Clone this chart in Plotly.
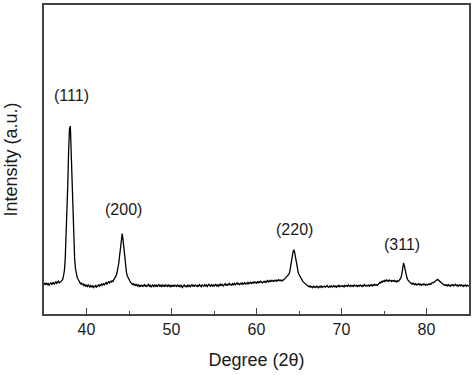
import numpy as np
import plotly.graph_objects as go

# 2-theta sampling (degrees), 0.1 deg step from 35.0 to 85.0
two_theta = np.round(np.arange(350, 851) / 10.0, 1)

# Intensity (a.u.), one row per degree (x.0 ... x.9)
intensity = [
    9.4, 9.9, 9.6, 10.1, 9.5, 9.8, 9.3, 9.9, 10.2, 9.6,        # 35
    9.8, 10.3, 9.7, 10.0, 10.4, 9.9, 10.2, 10.6, 10.1, 10.5,   # 36
    10.5, 10.8, 11.2, 12.5, 14.0, 18.0, 25.0, 32.0, 42.0, 53.0,  # 37
    60.0, 60.8, 52.0, 41.0, 32.0, 24.0, 18.0, 14.8, 13.0, 11.9,  # 38
    11.3, 10.6, 10.3, 9.8, 10.0, 9.5, 9.7, 9.2, 9.5, 9.0,      # 39
    9.3, 8.9, 9.4, 9.0, 8.7, 9.2, 8.8, 9.1, 8.6, 9.0,          # 40
    8.8, 9.2, 8.7, 9.1, 9.4, 9.0, 9.5, 9.2, 9.7, 9.4,          # 41
    9.8, 9.5, 9.9, 10.2, 9.7, 10.1, 10.4, 10.0, 10.5, 10.3,    # 42
    10.7, 10.5, 11.0, 11.3, 11.8, 12.5, 13.5, 14.6, 16.5, 19.0,  # 43
    22.0, 24.5, 26.0, 24.0, 21.0, 17.5, 15.0, 13.5, 12.3, 11.6,  # 44
    11.0, 10.7, 10.2, 10.0, 9.6, 9.8, 9.3, 9.6, 9.2, 9.5,      # 45
    9.1, 9.4, 8.9, 9.3, 9.0, 9.4, 8.8, 9.2, 9.5, 9.0,          # 46
    9.3, 8.9, 9.2, 9.6, 9.0, 9.3, 8.8, 9.2, 9.4, 8.9,          # 47
    9.3, 9.0, 9.5, 8.8, 9.2, 9.6, 9.0, 9.3, 8.9, 9.4,          # 48
    9.0, 9.3, 8.8, 9.5, 9.1, 8.9, 9.4, 9.0, 9.3, 8.7,          # 49
    9.2, 9.0, 9.4, 8.8, 9.3, 9.1, 8.9, 9.5, 9.0, 9.2,          # 50
    8.8, 9.3, 9.0, 8.6, 9.2, 9.4, 8.9, 9.1, 8.7, 9.3,          # 51
    9.0, 9.4, 8.8, 9.2, 9.5, 8.9, 9.3, 9.0, 9.4, 9.1,          # 52
    8.9, 9.3, 9.0, 9.5, 9.1, 8.8, 9.4, 9.2, 9.0, 9.5,          # 53
    9.1, 9.4, 8.9, 9.3, 9.6, 9.2, 9.0, 9.5, 9.1, 9.4,          # 54
    9.0, 9.3, 9.6, 9.1, 9.4, 9.0, 9.5, 9.2, 9.7, 9.3,          # 55
    9.5, 9.1, 9.4, 9.8, 9.2, 9.6, 9.3, 9.5, 9.9, 9.4,          # 56
    9.6, 9.3, 9.8, 9.5, 9.9, 9.4, 9.7, 10.1, 9.6, 9.8,         # 57
    9.5, 9.9, 9.7, 10.2, 9.6, 9.9, 10.1, 9.7, 10.0, 9.8,       # 58
    10.2, 9.8, 10.0, 10.3, 9.9, 10.2, 10.0, 10.4, 10.1, 10.3,  # 59
    10.0, 10.4, 10.1, 10.5, 10.2, 10.6, 10.3, 10.1, 10.5, 10.3,  # 60
    10.6, 10.2, 10.5, 10.8, 10.4, 10.7, 10.5, 10.9, 10.6, 10.8,  # 61
    10.5, 10.9, 10.7, 11.0, 10.6, 10.9, 11.1, 10.8, 11.0, 10.7,  # 62
    11.0, 10.8, 11.1, 11.3, 11.4, 11.7, 12.0, 12.3, 12.8, 13.5,  # 63
    14.8, 16.5, 18.5, 20.2, 20.8, 19.8, 18.0, 16.2, 14.8, 13.6,  # 64
    12.8, 12.2, 11.6, 11.2, 10.8, 10.4, 10.2, 9.8, 9.6, 9.3,   # 65
    9.2, 8.9, 9.1, 8.7, 9.0, 8.8, 8.5, 9.0, 8.7, 8.9,          # 66
    8.6, 9.0, 8.8, 8.5, 8.9, 8.7, 9.1, 8.6, 8.9, 8.8,          # 67
    9.0, 8.7, 8.9, 9.2, 8.8, 8.6, 9.0, 8.8, 9.1, 8.7,          # 68
    8.9, 9.2, 8.8, 9.0, 8.7, 9.1, 8.9, 9.3, 8.8, 9.0,          # 69
    9.2, 8.9, 9.1, 8.8, 9.3, 9.0, 9.2, 8.9, 9.4, 9.1,          # 70
    8.9, 9.3, 9.0, 9.2, 8.8, 9.4, 9.1, 9.0, 9.3, 8.9,          # 71
    9.2, 9.0, 9.4, 9.1, 8.9, 9.3, 9.0, 9.5, 9.2, 9.0,          # 72
    9.3, 9.1, 9.4, 9.0, 9.3, 9.5, 9.1, 9.4, 9.2, 9.6,          # 73
    9.3, 9.5, 9.2, 9.7, 9.9, 10.2, 10.0, 10.5, 10.3, 10.7,     # 74
    10.5, 10.9, 10.6, 11.0, 10.8, 10.6, 11.0, 10.7, 10.9, 10.5,  # 75
    10.8, 10.6, 10.9, 10.5, 10.7, 10.4, 10.8, 10.6, 10.9, 11.2,  # 76
    11.8, 13.0, 15.0, 16.5, 15.5, 14.0, 12.7, 11.7, 11.0, 10.6,  # 77
    10.3, 10.1, 9.8, 10.0, 9.6, 9.9, 9.5, 9.8, 9.4, 9.7,       # 78
    9.5, 9.8, 9.4, 9.7, 9.3, 9.6, 9.4, 9.8, 9.5, 9.3,          # 79
    9.6, 9.4, 9.7, 9.5, 9.8, 9.6, 10.0, 10.2, 10.1, 10.4,      # 80
    10.6, 10.8, 11.0, 11.2, 11.0, 10.8, 10.5, 10.2, 10.0, 9.7,  # 81
    9.6, 9.3, 9.5, 9.2, 9.4, 9.1, 9.5, 9.3, 9.0, 9.4,          # 82
    9.2, 9.5, 9.1, 9.3, 9.6, 9.2, 9.4, 9.0, 9.3, 9.5,          # 83
    9.1, 9.4, 9.2, 8.9, 9.3, 9.1, 9.4, 9.0, 9.3, 9.1,          # 84
    9.2,                                                       # 85.0
]

# Peak labels (Miller indices) and their label anchor positions
peak_labels = ["(111)", "(200)", "(220)", "(311)"]
label_x = [38.25, 44.3, 64.5, 77.1]
label_y = [70.6, 33.7, 27.5, 22.5]

x_ticks = [40, 50, 60, 70, 80]

FONT = "Liberation Sans, Arial, Helvetica, sans-serif"
TXT = "#1a1a1a"
AX = "#444444"

fig = go.Figure()
fig.add_trace(go.Scatter(
    x=two_theta, y=intensity, mode="lines",
    line=dict(color="black", width=1.3),
    showlegend=False, hoverinfo="skip",
))

for t, lx, ly in zip(peak_labels, label_x, label_y):
    fig.add_annotation(x=lx, y=ly, text=t, showarrow=False,
                       font=dict(family=FONT, size=16, color=TXT),
                       xanchor="center", yanchor="middle")

fig.update_layout(
    width=474, height=375,
    margin=dict(l=44, r=4, t=3, b=61),
    paper_bgcolor="white", plot_bgcolor="white",
    font=dict(family=FONT, color=TXT),
    xaxis=dict(
        range=[35, 85], tickvals=x_ticks, ticktext=[str(v) for v in x_ticks],
        ticks="inside", ticklen=6, tickwidth=1, tickcolor=AX,
        minor=dict(tickvals=[45, 55, 65, 75], ticks="inside", ticklen=3, tickcolor=AX),
        showline=True, linecolor=AX, linewidth=1.5, mirror=True,
        showgrid=False, zeroline=False,
        tickfont=dict(family=FONT, size=16, color=TXT),
        title=dict(text="Degree (2θ)", font=dict(family=FONT, size=18, color=TXT), standoff=16),
    ),
    yaxis=dict(
        range=[0, 100], showticklabels=False, ticks="",
        showline=True, linecolor=AX, linewidth=1.5, mirror=True,
        showgrid=False, zeroline=False,
        title=dict(text="Intensity (a.u.)", font=dict(family=FONT, size=18, color=TXT), standoff=20),
    ),
)

fig.write_html("out.html", config={"displayModeBar": False},
               post_script="document.body.style.margin='0px';")
